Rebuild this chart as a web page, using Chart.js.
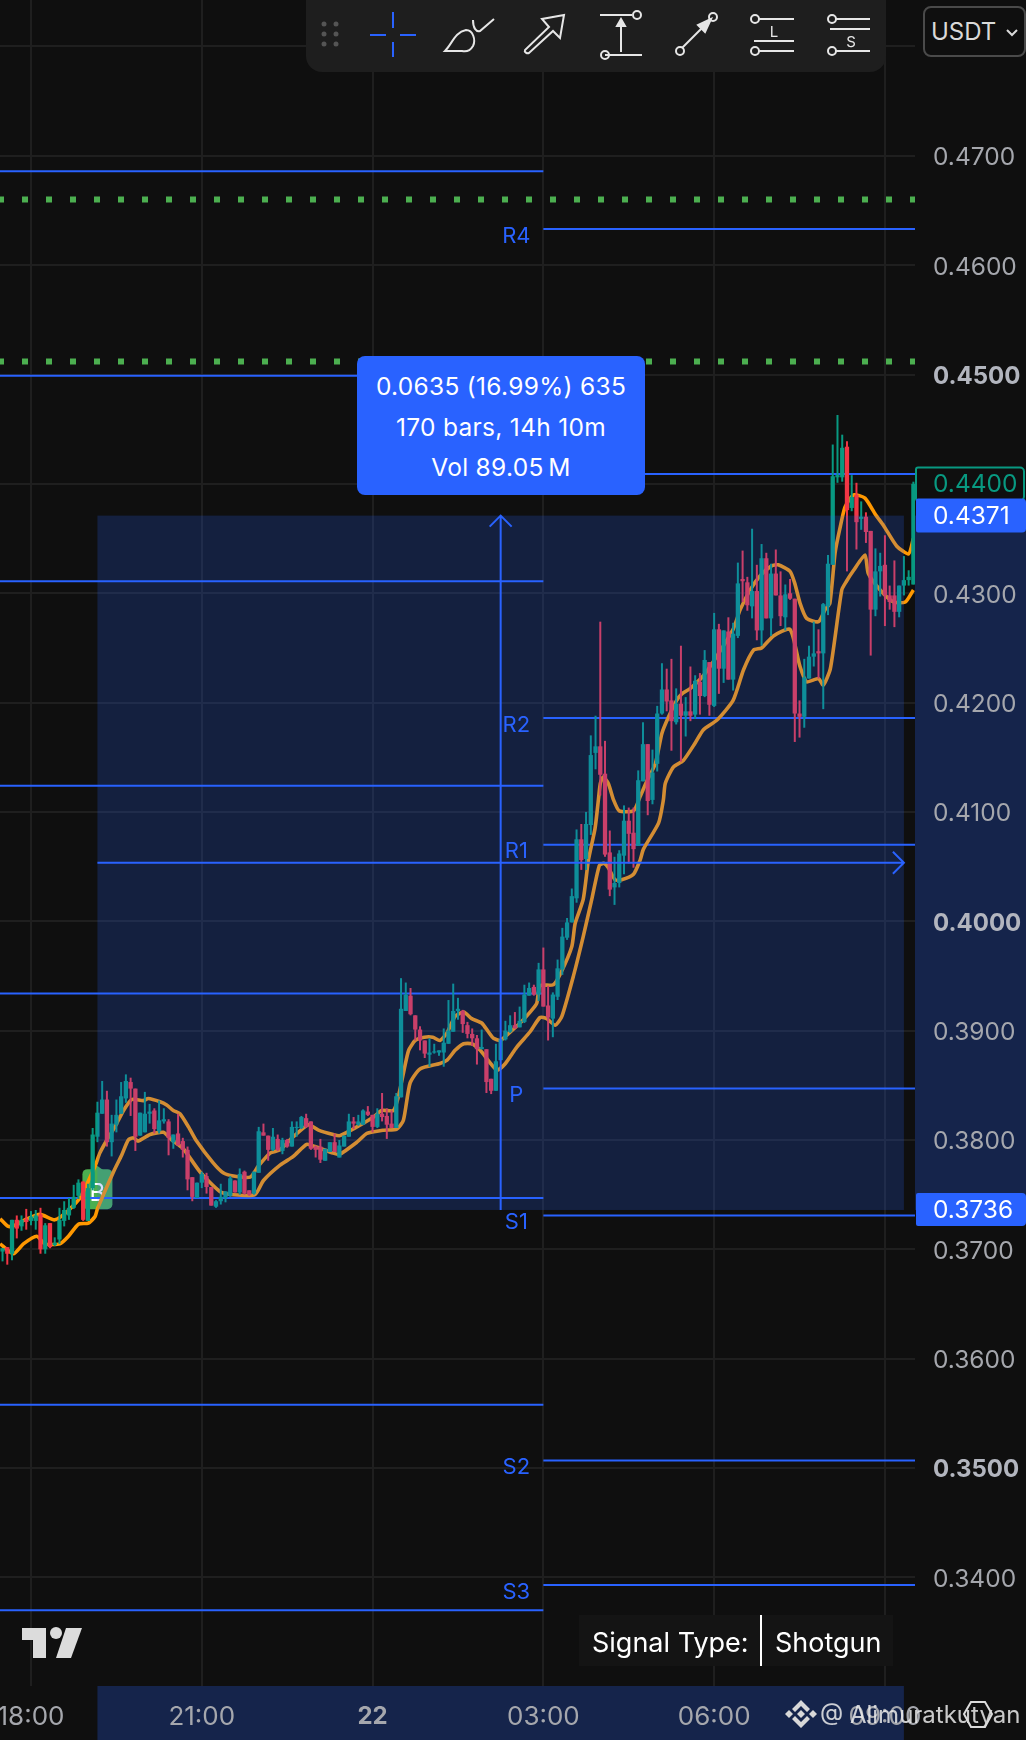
<!DOCTYPE html>
<html>
<head>
<meta charset="utf-8">
<title>Chart</title>
<script src="https://cdn.jsdelivr.net/npm/chart.js@4"></script>
<style>
html, body { margin: 0; padding: 0; background: #0f0f0f; }
#wrap { position: relative; width: 1026px; height: 1740px; overflow: hidden; font-family: Inter, sans-serif; color: #fff; }
#chart { position: absolute; left: 0; top: 0; }
.ui { position: absolute; }
#toolbar { left: 306px; top: 0; width: 580px; height: 72px; background: #1e1e1e; border-radius: 0 0 16px 16px; }
#unit { left: 923px; top: 6px; height: 47px; border: 2px solid #4a4a4a; border-radius: 8px; background: #0f0f0f; font-size: 24px; line-height: 47px; padding-left: 6px; color: #d9d9d9; width: 93px; }
#measure { left: 357px; top: 356px; width: 288px; height: 139px; background: #2962ff; border-radius: 8px; text-align: center; font-size: 24.5px; letter-spacing: .3px; line-height: 40.5px; padding-top: 10px; box-sizing: border-box; }
#signal { left: 579px; top: 1615px; width: 314px; height: 51px; background: #141414; font-size: 27px; line-height: 55px; }
#signal span { position: absolute; top: 0; white-space: nowrap; }
#signal i { position: absolute; left: 181px; top: 0; width: 2px; height: 51px; background: #fff; }
#credit { left: 820px; top: 1697px; font-size: 24px; line-height: 36px; color: rgba(235,235,235,.85); white-space: nowrap; }
svg.ui { left: 0; top: 0; pointer-events: none; }
</style>
</head>
<body>
<div id="wrap">
  <canvas id="chart" width="1026" height="1740"></canvas>
  <div id="toolbar" class="ui"></div>
  <div id="unit" class="ui">USDT</div>
  <div id="measure" class="ui">0.0635 (16.99%) 635<br>170 bars, 14h 10m<br>Vol 89.05&#8201;M</div>
  <div id="signal" class="ui"><span style="left:13px">Signal Type:</span><i></i><span style="left:196px">Shotgun</span></div>
  <div id="credit" class="ui">@ Alimuratkutyan</div>
  <svg class="ui" width="1026" height="1740" fill="none" stroke="#e6e6e6" stroke-width="2">
    <g fill="#555" stroke="none">
      <circle cx="324" cy="24" r="2.5"/><circle cx="336" cy="24" r="2.5"/>
      <circle cx="324" cy="34" r="2.5"/><circle cx="336" cy="34" r="2.5"/>
      <circle cx="324" cy="44" r="2.5"/><circle cx="336" cy="44" r="2.5"/>
    </g>
    <path d="M370 35H386M400 35H416M393 12V28M393 42V57" stroke="#2962ff"/>
    <path d="M445 51C452 44 455 32 466 30C473 30 476 40 473 46C470 51 466 52 462 51Z"/>
    <path d="M473 20C473 28 476 32 480 31L494 19"/>
    <path d="M564 15L542 19L549 27L525 50C524 52 527 54 529 53L553 31L560 38Z"/>
    <path d="M600 15H632M605 55H642M621 52V22"/><path d="M621 19L617 26H625Z" fill="#e6e6e6"/>
    <circle cx="637" cy="15" r="4"/><circle cx="605" cy="55" r="4"/>
    <path d="M682 48L704 26"/><path d="M711 19L698 25L705 32Z" fill="#e6e6e6"/>
    <circle cx="680" cy="51" r="4"/><circle cx="713" cy="17" r="4"/>
    <circle cx="755" cy="19" r="4"/><path d="M759 19H794M754 41H794M759 51H794"/><circle cx="755" cy="51" r="4"/>
    <circle cx="832" cy="19" r="4"/><path d="M836 19H870M830 29H870M836 51H870"/><circle cx="832" cy="51" r="4"/>
    <text x="774" y="37" font-size="15" fill="#e6e6e6" stroke="none" text-anchor="middle">L</text>
    <text x="851" y="47" font-size="15" fill="#e6e6e6" stroke="none" text-anchor="middle">S</text>
    <path d="M1007 30L1012 35L1017 30" stroke="#d9d9d9"/>
    <path d="M22 1628H46V1658H33V1640H22Z" fill="#dcdcdc" stroke="none"/>
    <circle cx="56" cy="1633" r="6" fill="#dcdcdc" stroke="none"/>
    <path d="M66 1628H82L71 1658H56Z" fill="#dcdcdc" stroke="none"/>
    <g fill="#d8d8d8" stroke="none">
      <path d="M801 1700L810 1709L807 1712L801 1706L795 1712L792 1709Z"/>
      <path d="M801 1728L810 1719L807 1716L801 1722L795 1716L792 1719Z"/>
      <path d="M801 1710L805 1714L801 1718L797 1714Z"/>
      <path d="M789 1710L793 1714L789 1718L785 1714Z"/><path d="M813 1710L817 1714L813 1718L809 1714Z"/>
    </g>
    <path d="M971 1702H985L992 1714L985 1727H971L964 1714Z" stroke="#dcdcdc"/>
  </svg>
</div>
<script>
// --- data (5 minute bars, bar 0 = 18:00) ---
const firstBar = -6;
const opens = [
  .3698,.3702,.3696,.3727,.3721,.3728,.3726,.3726,.3732,.3700,
  .3724,.3704,.3709,.3726,.3731,.3738,.3749,.3762,.3726,.3756,
  .3803,.3824,.3837,.3798,.3814,.3824,.3838,.3853,.3847,.3804,
  .3807,.3824,.3827,.3808,.3817,.3817,.3798,.3806,.3799,.3791,
  .3766,.3747,.3761,.3767,.3757,.3739,.3744,.3747,.3749,.3763,
  .3752,.3771,.3754,.3751,.3770,.3807,.3804,.3791,.3801,.3790,
  .3800,.3794,.3811,.3811,.3820,.3817,.3794,.3794,.3781,.3789,
  .3798,.3784,.3794,.3803,.3817,.3814,.3814,.3826,.3823,.3812,
  .3824,.3822,.3815,.3811,.3839,.3918,.3932,.3914,.3901,.3891,
  .3878,.3880,.3880,.3880,.3888,.3899,.3918,.3918,.3905,.3897,
  .3893,.3883,.3883,.3856,.3845,.3873,.3892,.3899,.3905,.3903,
  .3908,.3932,.3940,.3933,.3956,.3923,.3911,.3931,.3956,.3985,
  .3999,.4021,.4075,.4057,.4088,.4154,.4160,.4135,.4063,.4031,
  .4035,.4060,.4092,.4081,.4069,.4128,.4162,.4111,.4144,.4190,
  .4212,.4202,.4182,.4199,.4188,.4192,.4189,.4219,.4206,.4237,
  .4197,.4267,.4231,.4265,.4221,.4261,.4313,.4310,.4288,.4302,
  .4266,.4332,.4277,.4318,.4298,.4278,.4300,.4295,.4190,.4187,
  .4222,.4242,.4247,.4245,.4288,.4326,.4406,.4406,.4434,.4378,
  .4390,.4368,.4370,.4357,.4285,.4320,.4326,.4298,.4298,.4283,
  .4307,.4312,.4308
];
const highs = [
  .3701,.3702,.3727,.3731,.3731,.3737,.3735,.3736,.3738,.3724,
  .3724,.3711,.3738,.3744,.3747,.3759,.3764,.3762,.3760,.3811,
  .3835,.3854,.3845,.3823,.3837,.3853,.3860,.3857,.3847,.3825,
  .3844,.3833,.3829,.3836,.3829,.3819,.3805,.3824,.3802,.3794,
  .3766,.3761,.3771,.3770,.3757,.3745,.3760,.3753,.3767,.3763,
  .3774,.3772,.3754,.3771,.3812,.3815,.3804,.3811,.3805,.3802,
  .3801,.3817,.3817,.3822,.3824,.3817,.3795,.3801,.3792,.3798,
  .3806,.3800,.3804,.3824,.3821,.3823,.3828,.3831,.3823,.3829,
  .3843,.3829,.3827,.3843,.3948,.3944,.3939,.3914,.3904,.3891,
  .3893,.3888,.3882,.3902,.3928,.3943,.3930,.3919,.3908,.3902,
  .3896,.3901,.3883,.3856,.3888,.3892,.3909,.3914,.3917,.3922,
  .3942,.3944,.3942,.3962,.3976,.3941,.3935,.3965,.3994,.4003,
  .4030,.4084,.4089,.4100,.4170,.4188,.4274,.4165,.4083,.4059,
  .4065,.4106,.4104,.4104,.4138,.4182,.4162,.4157,.4197,.4236,
  .4231,.4240,.4213,.4252,.4205,.4233,.4225,.4227,.4248,.4237,
  .4282,.4272,.4266,.4278,.4273,.4328,.4339,.4315,.4359,.4326,
  .4345,.4337,.4327,.4340,.4320,.4308,.4313,.4295,.4202,.4240,
  .4252,.4274,.4267,.4291,.4335,.4436,.4463,.4445,.4439,.4408,
  .4401,.4384,.4374,.4357,.4341,.4337,.4353,.4307,.4330,.4307,
  .4334,.4321,.4402
];
const lows = [
  .3689,.3686,.3690,.3710,.3717,.3718,.3722,.3718,.3696,.3696,
  .3701,.3703,.3705,.3721,.3727,.3737,.3746,.3726,.3726,.3754,
  .3798,.3824,.3794,.3785,.3807,.3824,.3834,.3822,.3790,.3804,
  .3807,.3815,.3806,.3806,.3815,.3786,.3792,.3795,.3784,.3754,
  .3744,.3747,.3756,.3751,.3740,.3738,.3741,.3743,.3748,.3752,
  .3750,.3750,.3749,.3750,.3770,.3804,.3781,.3790,.3790,.3787,
  .3793,.3794,.3803,.3810,.3811,.3791,.3784,.3779,.3781,.3789,
  .3789,.3784,.3794,.3803,.3810,.3813,.3814,.3822,.3807,.3811,
  .3817,.3801,.3811,.3811,.3839,.3918,.3914,.3891,.3882,.3875,
  .3867,.3879,.3877,.3867,.3888,.3899,.3910,.3898,.3893,.3886,
  .3869,.3883,.3843,.3842,.3845,.3873,.3891,.3898,.3902,.3903,
  .3907,.3932,.3932,.3927,.3922,.3891,.3894,.3928,.3951,.3983,
  .3999,.4017,.4047,.4047,.4079,.4139,.4115,.4059,.4023,.4015,
  .4031,.4043,.4053,.4049,.4069,.4128,.4097,.4107,.4137,.4189,
  .4192,.4156,.4180,.4146,.4169,.4183,.4185,.4189,.4205,.4188,
  .4196,.4208,.4218,.4221,.4211,.4259,.4292,.4284,.4277,.4257,
  .4252,.4277,.4261,.4298,.4270,.4266,.4294,.4164,.4168,.4177,
  .4222,.4233,.4222,.4194,.4280,.4326,.4401,.4402,.4320,.4375,
  .4340,.4358,.4346,.4243,.4279,.4297,.4270,.4285,.4269,.4278,
  .4298,.4307,.4308
];
const closes = [
  .3701,.3696,.3727,.3719,.3727,.3725,.3730,.3731,.3700,.3722,
  .3702,.3706,.3727,.3736,.3738,.3748,.3761,.3727,.3756,.3805,
  .3825,.3837,.3798,.3815,.3823,.3840,.3854,.3847,.3803,.3825,
  .3824,.3826,.3810,.3818,.3819,.3802,.3805,.3795,.3791,.3764,
  .3748,.3761,.3769,.3757,.3740,.3744,.3748,.3753,.3765,.3752,
  .3769,.3751,.3750,.3771,.3808,.3804,.3791,.3803,.3791,.3800,
  .3794,.3812,.3812,.3821,.3812,.3792,.3791,.3782,.3792,.3798,
  .3789,.3795,.3804,.3817,.3815,.3817,.3827,.3823,.3812,.3824,
  .3821,.3814,.3811,.3840,.3920,.3933,.3915,.3901,.3891,.3879,
  .3880,.3881,.3882,.3889,.3900,.3918,.3920,.3906,.3897,.3893,
  .3883,.3885,.3853,.3845,.3872,.3892,.3900,.3905,.3902,.3909,
  .3933,.3939,.3933,.3956,.3922,.3912,.3933,.3957,.3986,.3999,
  .4023,.4075,.4056,.4089,.4152,.4160,.4134,.4061,.4029,.4035,
  .4062,.4092,.4080,.4066,.4129,.4162,.4110,.4136,.4190,.4212,
  .4201,.4183,.4199,.4188,.4192,.4188,.4220,.4206,.4239,.4198,
  .4267,.4231,.4266,.4221,.4263,.4309,.4311,.4289,.4302,.4266,
  .4332,.4277,.4318,.4298,.4279,.4299,.4295,.4190,.4187,.4223,
  .4242,.4245,.4245,.4290,.4327,.4407,.4408,.4433,.4376,.4388,
  .4365,.4370,.4356,.4285,.4320,.4325,.4298,.4292,.4283,.4307,
  .4312,.4315,.4400
];

// the two moving averages, sampled at the bends
const fastBars = [-6.5,-4.8,-3.4,-1.3,1.9,5,7.5,10.3,13.5,14.5,16,17.7,19.5,21.2,23.7,24.7,27.2,28.6,30,31.4,33.2,34.9,38.4,40.5,42.7,46.2,47.9,50.4,52.5,55.3,58.5,60.6,63.7,65.1,68.7,72.2,73.9,76.4,77.4,78.5,79.6,81,82.9,84.7,86.2,87.7,89.4,91.2,92.9,95,96.4,97.5,98.9,100.3,103.1,105.2,106.6,107.3,110.1,111.7,114,114.7,116.4,117.5,118.9,119.6,120,120.6,121.7,122.8,124,127,128.4,129.8,131.6,133,134.4,136.1,137.2,139,141.8,144.5,148,149.5,151.6,153.7,156.1,157.5,160,161,162.1,163.5,166,167.4,168.4,169.5,170.5,171.6,173.4,175.8,178,179.7,182.5,185,186];
const fastVals = [.3728,.3721,.3722,.3727,.3732,.3727,.3734,.3747,.3776,.3788,.3800,.3812,.3827,.3837,.3836,.3838,.3835,.3832,.3827,.3824,.3812,.3799,.3779,.3770,.3767,.3766,.3776,.3788,.3791,.3803,.3814,.3809,.3805,.3804,.3812,.3821,.3827,.3827,.3839,.3861,.3882,.3891,.3894,.3894,.3891,.3898,.3913,.3917,.3911,.3907,.3899,.3893,.3891,.3896,.3907,.3917,.3925,.3941,.3942,.3953,.3977,.3998,.4020,.4056,.4085,.4111,.4126,.4132,.4126,.4111,.4101,.4101,.4114,.4128,.4144,.4172,.4187,.4202,.4208,.4213,.4225,.4242,.4267,.4285,.4303,.4316,.4325,.4326,.4320,.4309,.4291,.4277,.4274,.4285,.4291,.4337,.4359,.4379,.4390,.4387,.4372,.4362,.4343,.4336,.4350];
const slowBars = [-6.5,-3.7,-1.6,1.2,2.9,6.1,7.9,10,12.1,13.5,14,17.4,19.1,20.5,21.6,22.6,25.1,27.9,29.7,32.1,35.6,39.8,42.7,47.2,49,52.5,55.3,58.1,59.9,63.7,65.1,68.7,70.8,74.3,77.1,78.5,79.9,82,86.2,87.7,89.4,91.2,92.9,94.7,98.2,100,102.4,105.2,107.3,108.7,110.5,111.9,114.4,116.4,118.2,119.8,120.7,121.7,123.1,124.5,127,128.4,129.1,132.3,133.3,133.7,135.4,137.5,140,141.7,144.6,148,150.2,152.3,154,156.5,160,162.1,163.5,166,167,168.5,170.9,171.9,173.4,175.8,176.5,179,181.8,184.3,186];
const slowVals = [.3705,.3696,.3705,.3712,.3705,.3705,.3712,.3723,.3724,.3730,.3737,.3771,.3786,.3800,.3802,.3799,.3805,.3807,.3800,.3792,.3771,.3753,.3750,.3750,.3763,.3777,.3785,.3796,.3794,.3788,.3787,.3798,.3806,.3809,.3810,.3818,.3852,.3865,.3870,.3873,.3882,.3888,.3888,.3882,.3864,.3870,.3885,.3899,.3912,.3911,.3905,.3913,.3951,.3986,.4020,.4051,.4053,.4049,.4038,.4038,.4043,.4056,.4066,.4090,.4111,.4126,.4141,.4147,.4163,.4175,.4184,.4202,.4230,.4248,.4250,.4261,.4267,.4233,.4219,.4222,.4216,.4231,.4303,.4311,.4321,.4335,.4318,.4303,.4292,.4292,.4303];

// pivot levels: previous session on the left of the split, current on the right
const pivotSplitBar = 108;
const pivotsPrev = [.4686,.4499,.4311,.4124,.3934,.3747,.3558,.3370];
const pivotsCur = [.4633,.4409,.4186,.4070,.3847,.3731,.3507,.3393];
const pivotNames = ['R4','','R2','R1','P','S1','S2','S3'];
const targetLevels = [.4660,.4512];

// measure tool and price tags
const measureFromBar = 14, measureToBar = 184;
const measureLow = .3736, measureHigh = .4371;
const lastPrice = .4400;
const signalBar = 14, signalPrice = .3777;

const xTicks = [0,36,72,108,144,180];
const xTickLabels = ['18:00','21:00','22','03:00','06:00','09:00'];
const yTicks = [.34,.35,.36,.37,.38,.39,.40,.41,.42,.43,.44,.45,.46,.47,.48];
const yTicksBold = [.35,.40,.45];

const xMin = -6.535, xMax = 186.34;
const yMin = .33007, yMax = .48425;

const GREEN = '#089981', RED = '#f23645', BLUE = '#2962ff', ORANGE = '#ff9800';
const FONT = 'Inter, sans-serif';

const bars = opens.map((_, k) => firstBar + k);
const candleColors = opens.map((o, k) => closes[k] >= o ? GREEN : RED);

function levelLine(from, to, price, extra) {
    return Object.assign({
        type: 'line',
        data: [{ x: from, y: price }, { x: to, y: price }],
        borderColor: BLUE, borderWidth: 2, pointRadius: 0, order: 5
    }, extra);
}

const datasets = [];
pivotsPrev.forEach(p => datasets.push(levelLine(xMin, pivotSplitBar, p)));
pivotsCur.forEach(p => datasets.push(levelLine(pivotSplitBar, xMax, p)));
targetLevels.forEach(p => datasets.push(levelLine(xMin, xMax, p, {
    borderColor: '#4caf50', borderWidth: 6, borderDash: [6, 18], borderDashOffset: 2, order: 4
})));

datasets.push({
    type: 'line', data: slowBars.map((b, k) => ({ x: b, y: slowVals[k] })),
    borderColor: ORANGE, borderWidth: 3.6, pointRadius: 0, tension: 0.2, order: 3
});
datasets.push({
    type: 'line', data: fastBars.map((b, k) => ({ x: b, y: fastVals[k] })),
    borderColor: ORANGE, borderWidth: 3.6, pointRadius: 0, tension: 0.2, order: 3
});

// wicks and bodies as floating bars
datasets.push({
    type: 'bar', data: bars.map((b, k) => ({ x: b, y: [lows[k], highs[k]] })),
    backgroundColor: candleColors, barThickness: 2, grouped: false, inflateAmount: 0, order: 2
});
datasets.push({
    type: 'bar', data: bars.map((b, k) => ({ x: b, y: [opens[k], closes[k]] })),
    backgroundColor: candleColors, barThickness: 4.3, grouped: false, inflateAmount: 0, order: 1
});

function priceTag(ctx, text, fill, stroke, color, top, h, w) {
    ctx.beginPath();
    ctx.roundRect(916, top, w, h, [2, 4, 4, 2]);
    ctx.fillStyle = fill;
    ctx.fill();
    if (stroke) { ctx.strokeStyle = stroke; ctx.lineWidth = 2; ctx.stroke(); }
    ctx.fillStyle = color;
    ctx.font = '24.5px ' + FONT;
    ctx.textAlign = 'left';
    ctx.textBaseline = 'middle';
    ctx.fillText(text, 933, top + h / 2 + 1);
}

const tvDrawing = {
    id: 'tvDrawing',
    beforeDraw(chart) {
        const { ctx, scales: { x, y }, width, height } = chart;
        ctx.save();
        ctx.fillStyle = '#0f0f0f';
        ctx.fillRect(0, 0, width, height);
        // highlighted measure range on both axes
        ctx.fillStyle = 'rgba(41,98,255,0.25)';
        ctx.fillRect(x.getPixelForValue(measureFromBar), y.bottom, x.getPixelForValue(measureToBar) - x.getPixelForValue(measureFromBar), height - y.bottom);
        ctx.fillRect(x.right, y.getPixelForValue(measureHigh), width - x.right, y.getPixelForValue(measureLow) - y.getPixelForValue(measureHigh));
        ctx.restore();
    },
    beforeDatasetsDraw(chart) {
        // buy signal tag sits under the candles
        const { ctx, scales: { x, y } } = chart;
        const cx = x.getPixelForValue(signalBar), tip = y.getPixelForValue(signalPrice);
        ctx.save();
        ctx.fillStyle = '#4caf50';
        ctx.beginPath();
        ctx.roundRect(cx - 15, tip + 4, 30, 40, 5);
        ctx.fill();
        ctx.beginPath();
        ctx.moveTo(cx - 7, tip + 5);
        ctx.lineTo(cx - 1, tip);
        ctx.lineTo(cx + 6, tip + 5);
        ctx.fill();
        ctx.fillStyle = '#fff';
        ctx.font = '24px ' + FONT;
        ctx.textAlign = 'center';
        ctx.textBaseline = 'middle';
        ctx.fillText('B', cx, tip + 29);
        ctx.restore();
    },
    afterDatasetsDraw(chart) {
        const { ctx, scales: { x, y } } = chart;
        const left = x.getPixelForValue(measureFromBar), right = x.getPixelForValue(measureToBar);
        const top = y.getPixelForValue(measureHigh), bottom = y.getPixelForValue(measureLow);
        const midX = x.getPixelForValue((measureFromBar + measureToBar) / 2);
        const midY = y.getPixelForValue((measureLow + measureHigh) / 2);
        ctx.save();
        ctx.fillStyle = 'rgba(41,98,255,0.2)';
        ctx.fillRect(left, top, right - left, bottom - top);

        ctx.strokeStyle = BLUE;
        ctx.lineWidth = 2;
        ctx.beginPath();
        ctx.moveTo(midX, bottom); ctx.lineTo(midX, top);
        ctx.moveTo(midX - 11, top + 11); ctx.lineTo(midX, top); ctx.lineTo(midX + 11, top + 11);
        ctx.moveTo(left, midY); ctx.lineTo(right, midY);
        ctx.moveTo(right - 11, midY - 11); ctx.lineTo(right, midY); ctx.lineTo(right - 11, midY + 11);
        ctx.stroke();

        // pivot names, just left of the split
        const labelX = x.getPixelForValue(pivotSplitBar) - 27;
        ctx.fillStyle = BLUE;
        ctx.font = '22px ' + FONT;
        ctx.textAlign = 'center';
        ctx.textBaseline = 'middle';
        pivotNames.forEach((name, k) => {
            if (name) ctx.fillText(name, labelX, y.getPixelForValue(pivotsCur[k]) + 7);
        });
        ctx.restore();
    },
    afterDraw(chart) {
        const { ctx, scales: { y } } = chart;
        ctx.save();
        const last = y.getPixelForValue(measureHigh);
        priceTag(ctx, lastPrice.toFixed(4), '#0f0f0f', GREEN, GREEN, last - 48, 33, 108);
        priceTag(ctx, measureHigh.toFixed(4), BLUE, null, '#fff', last - 17, 34, 110);
        priceTag(ctx, measureLow.toFixed(4), BLUE, null, '#fff', y.getPixelForValue(measureLow) - 17, 33, 110);
        ctx.restore();
    }
};

const isBold = c => c.tick && yTicksBold.includes(c.tick.value);

new Chart(document.getElementById('chart'), {
    type: 'bar',
    data: { datasets },
    plugins: [tvDrawing],
    options: {
        responsive: false, animation: false, devicePixelRatio: 1,
        layout: { padding: 0 },
        plugins: { legend: { display: false }, tooltip: { enabled: false } },
        scales: {
            x: {
                type: 'linear', min: xMin, max: xMax, offset: false,
                grid: { color: '#1f1f1f', lineWidth: 2, offset: false, drawTicks: false },
                border: { display: false },
                afterBuildTicks: s => { s.ticks = xTicks.map(v => ({ value: v })); },
                afterFit: s => { s.height = 54; s.paddingLeft = 0; s.paddingRight = 0; },
                ticks: {
                    autoSkip: false, maxRotation: 0, padding: 16, color: '#a5a7ad',
                    callback: (v, i) => xTickLabels[i],
                    font: c => ({ family: 'Inter', size: c.index === 2 ? 24 : 26, weight: c.index === 2 ? 'bold' : 'normal' })
                }
            },
            y: {
                type: 'linear', position: 'right', min: yMin, max: yMax,
                grid: { color: '#1f1f1f', lineWidth: 2, drawTicks: false },
                border: { display: false },
                afterBuildTicks: s => { s.ticks = yTicks.map(v => ({ value: v })); },
                afterFit: s => { s.width = 111; s.paddingTop = 0; s.paddingBottom = 0; },
                ticks: {
                    autoSkip: false, padding: 18,
                    // blank first line with a 4px line height nudges the label 2px down
                    callback: v => v === .48 ? '' : ['', v.toFixed(4)],
                    color: c => isBold(c) ? '#b2b5be' : '#a5a7ad',
                    font: c => ({ family: 'Inter', size: isBold(c) ? 24 : 24.5, lineHeight: '4px', weight: isBold(c) ? 'bold' : 'normal' })
                }
            }
        }
    }
});
</script>
</body>
</html>
